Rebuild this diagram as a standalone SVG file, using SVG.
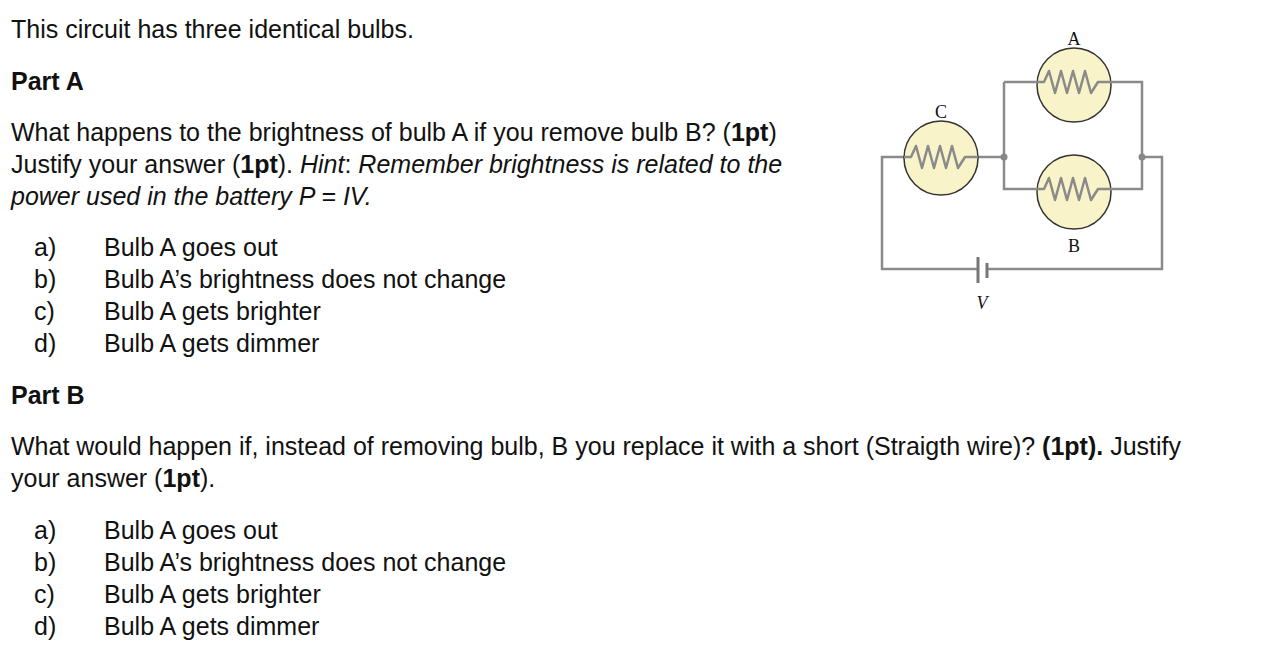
<svg xmlns="http://www.w3.org/2000/svg" width="1262" height="656" viewBox="0 0 1262 656">
<style>
text{font-family:"Liberation Sans",Arial,sans-serif;font-size:25px;fill:#111}
.b{font-weight:bold}.i{font-style:italic}
.lbl{font-family:"Liberation Serif","Times New Roman",serif;font-size:18px;text-anchor:middle}
.w{fill:none;stroke:#8a8a8a;stroke-width:2.5}
.bulb{fill:#f8f3c8;stroke:#333;stroke-width:1.5}
.z{fill:none;stroke:#8a8a8a;stroke-width:2.5;stroke-linejoin:round}
</style>
<rect width="1262" height="656" fill="#fff"/>
<g id="text">
<text x="11" y="38">This circuit has three identical bulbs.</text>
<text x="11" y="90" class="b">Part A</text>
<text x="11" y="141">What happens to the brightness of bulb A if you remove bulb B? (<tspan class="b">1pt</tspan>)</text>
<text x="11" y="173">Justify your answer (<tspan class="b">1pt</tspan>). <tspan class="i">Hint</tspan>: <tspan class="i">Remember brightness is related to the</tspan></text>
<text x="11" y="205" class="i">power used in the battery P = IV.</text>
<text x="34" y="256">a)</text><text x="104" y="256">Bulb A goes out</text>
<text x="34" y="288">b)</text><text x="104" y="288">Bulb A’s brightness does not change</text>
<text x="34" y="320">c)</text><text x="104" y="320">Bulb A gets brighter</text>
<text x="34" y="352">d)</text><text x="104" y="352">Bulb A gets dimmer</text>
<text x="11" y="404" class="b">Part B</text>
<text x="11" y="455">What would happen if, instead of removing bulb, B you replace it with a short (Straigth wire)? <tspan class="b">(1pt).</tspan> Justify</text>
<text x="11" y="487">your answer (<tspan class="b">1pt</tspan>).</text>
<text x="34" y="539">a)</text><text x="104" y="539">Bulb A goes out</text>
<text x="34" y="571">b)</text><text x="104" y="571">Bulb A’s brightness does not change</text>
<text x="34" y="603">c)</text><text x="104" y="603">Bulb A gets brighter</text>
<text x="34" y="635">d)</text><text x="104" y="635">Bulb A gets dimmer</text>
</g>
<g id="connectors">
<path class="w" d="M904 157H882V269H978M987 269H1162V157H1142M978 157H1004M1004 82V189H1036M1004 82H1036M1112 82H1142V189H1112"/>
<path d="M978 257V283M987 263V278" stroke="#777" stroke-width="3"/>
<circle cx="1004" cy="157" r="3.5" fill="#888"/>
<circle cx="1142" cy="157" r="3.5" fill="#888"/>
</g>
<g id="bulbC">
<circle class="bulb" cx="941" cy="158" r="37"/>
<path class="z" d="M904 157H911L916 146L922 168L928 146L934 168L940 146L946 168L952 146L958 168L965 157H978"/>
<text class="lbl" x="941" y="118">C</text>
</g>
<g id="bulbA">
<circle class="bulb" cx="1074" cy="85" r="37"/>
<path class="z" d="M1036 82H1044L1049 71L1055 93L1061 71L1067 93L1073 71L1079 93L1085 71L1091 93L1098 82H1112"/>
<text class="lbl" x="1074" y="45">A</text>
</g>
<g id="bulbB">
<circle class="bulb" cx="1074" cy="192" r="37"/>
<path class="z" d="M1036 189H1044L1049 178L1055 200L1061 178L1067 200L1073 178L1079 200L1085 178L1091 200L1098 189H1112"/>
<text class="lbl" x="1074" y="252">B</text>
</g>
<g id="battery"><text class="lbl i" x="982" y="309">V</text></g>
</svg>
